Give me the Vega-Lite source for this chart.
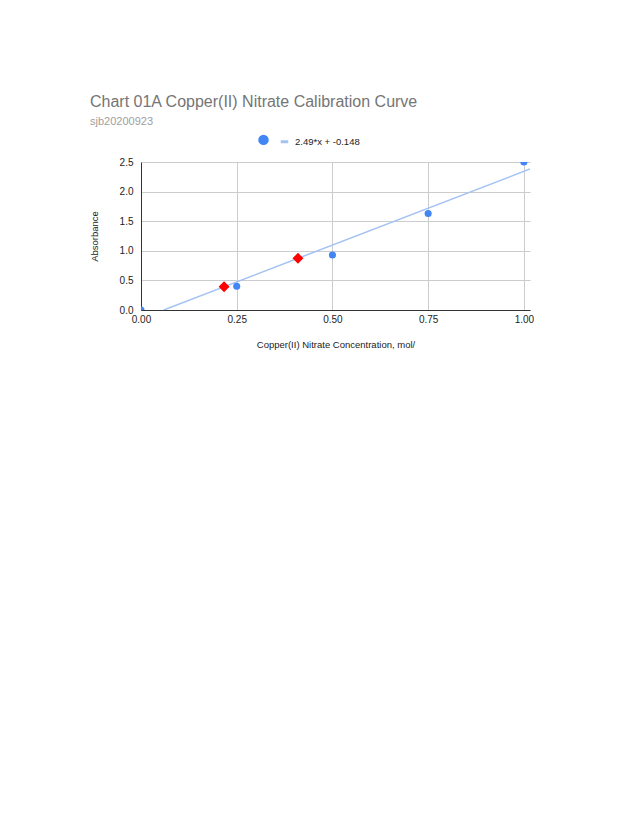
{
  "$schema": "https://vega.github.io/schema/vega-lite/v6.json",
  "autosize": {"type": "none"},
  "width": 389,
  "height": 148,
  "padding": {"left": 141, "top": 162, "right": 108, "bottom": 516},
  "background": "white",
  "title": {
    "text": "Chart 01A Copper(II) Nitrate Calibration Curve",
    "subtitle": "sjb20200923",
    "anchor": "start",
    "frame": "group",
    "dx": -51,
    "offset": 7,
    "font": "Liberation Sans",
    "fontSize": 16,
    "fontWeight": "normal",
    "color": "#757575",
    "subtitleFont": "Liberation Sans",
    "subtitleFontSize": 11,
    "subtitleColor": "#9e9e9e",
    "subtitlePadding": 6
  },
  "config": {
    "view": {"stroke": null},
    "axis": {
      "labelFont": "Liberation Sans",
      "labelFontSize": 10,
      "labelColor": "#222222",
      "titleFont": "Liberation Sans",
      "titleFontSize": 9.5,
      "titleFontWeight": "normal",
      "titleColor": "#222222",
      "gridColor": "#cccccc",
      "domainColor": "#333333",
      "ticks": false
    },
    "legend": {
      "labelFont": "Liberation Sans",
      "labelFontSize": 9.5,
      "labelColor": "#222222"
    }
  },
  "datasets": {
    "pts": [
      {"conc": 0.0, "abs": 0.0, "series": "pts"},
      {"conc": 0.25, "abs": 0.40, "series": "pts"},
      {"conc": 0.5, "abs": 0.93, "series": "pts"},
      {"conc": 0.75, "abs": 1.63, "series": "pts"},
      {"conc": 1.0, "abs": 2.5, "series": "pts"}
    ],
    "fit": [
      {"conc": 0.0594, "abs": 0.0, "series": "2.49*x + -0.148"},
      {"conc": 1.016, "abs": 2.382, "series": "2.49*x + -0.148"}
    ],
    "samples": [
      {"conc": 0.217, "abs": 0.392},
      {"conc": 0.41, "abs": 0.873}
    ]
  },
  "encoding": {
    "x": {
      "field": "conc",
      "type": "quantitative",
      "scale": {"domain": [0, 1.016], "nice": false},
      "axis": {
        "title": "Copper(II) Nitrate Concentration, mol/",
        "values": [0, 0.25, 0.5, 0.75, 1],
        "format": ".2f",
        "labelFlush": false,
        "labelPadding": 4,
        "titlePadding": 15
      }
    },
    "y": {
      "field": "abs",
      "type": "quantitative",
      "scale": {"domain": [0, 2.5], "nice": false},
      "axis": {
        "title": "Absorbance",
        "values": [0, 0.5, 1, 1.5, 2, 2.5],
        "format": ".1f",
        "labelPadding": 8,
        "titlePadding": 20
      }
    }
  },
  "layer": [
    {
      "data": {"name": "fit"},
      "mark": {"type": "line", "strokeWidth": 1.5, "clip": true},
      "encoding": {
        "color": {
          "field": "series",
          "type": "nominal",
          "scale": {"domain": ["pts", "2.49*x + -0.148"], "range": ["#4285f4", "#a4c2f4"]},
          "legend": {
            "title": null,
            "orient": "none",
            "legendX": 117,
            "legendY": -28,
            "direction": "horizontal",
            "symbolSize": 56,
            "symbolStrokeWidth": 3,
            "columnPadding": 0,
            "labelOffset": 5,
            "labelExpr": "datum.label == 'pts' ? '' : datum.label"
          }
        },
        "shape": {
          "field": "series",
          "type": "nominal",
          "scale": {"domain": ["pts", "2.49*x + -0.148"], "range": ["circle", "stroke"]}
        }
      }
    },
    {
      "data": {"name": "pts"},
      "mark": {"type": "point", "filled": true, "size": 50, "opacity": 1, "clip": true},
      "encoding": {
        "color": {"field": "series", "type": "nominal"},
        "shape": {"field": "series", "type": "nominal"}
      }
    },
    {
      "data": {"name": "samples"},
      "mark": {"type": "point", "shape": "diamond", "filled": true, "size": 120, "opacity": 1, "color": "#ff0000"}
    }
  ]
}
